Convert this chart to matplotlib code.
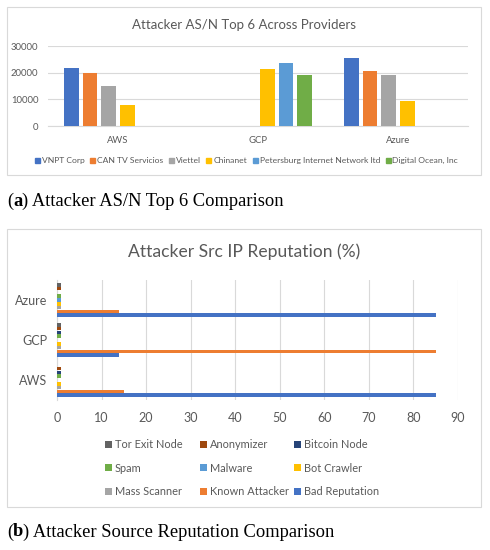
import numpy as np
import matplotlib
matplotlib.use("Agg")
from matplotlib import pyplot as plt
from matplotlib.patches import Rectangle

# 数据 - 上图 (AS/N top 6)
providers = ["AWS", "GCP", "Azure"]
asn_names = ["VNPT Corp", "CAN TV Servicios", "Viettel", "Chinanet",
             "Petersburg Internet Network ltd", "Digital Ocean, Inc"]
vnpt = [21800, 0, 25500]
cantv = [19700, 0, 20500]
viettel = [15000, 0, 19200]
chinanet = [7900, 21400, 9200]
petersburg = [0, 23500, 0]
digital_ocean = [0, 19200, 0]

# 数据 - 下图 (reputation %), 从下往上的系列顺序
rep_names = ["Bad Reputation", "Known Attacker", "Mass Scanner", "Bot Crawler",
             "Malware", "Spam", "Bitcoin Node", "Anonymizer", "Tor Exit Node"]
bad_rep = [85, 14, 85]
known_attacker = [15, 85, 14]
mass_scanner = [1, 1, 1]
bot_crawler = [1, 1, 1]
malware = [0, 0, 1]
spam = [1, 1, 1]
bitcoin = [1, 1, 0]
anonymizer = [1, 1, 1]
tor_exit = [0, 1, 1]
x_ticks = list(range(0, 100, 10))

asn_colors = ["#4472C4", "#ED7D31", "#A5A5A5", "#FFC000", "#5B9BD5", "#70AD47"]
rep_colors = ["#4472C4", "#ED7D31", "#A5A5A5", "#FFC000", "#5B9BD5", "#70AD47",
              "#264478", "#9E480E", "#636363"]
txt = "#595959"
grid = "#D9D9D9"
sans = ["Lato", "DejaVu Sans"]
serif = ["Liberation Serif", "DejaVu Serif"]

W, H = 490, 550
fig = plt.figure(figsize=(W / 100, H / 100), dpi=100)
renderer = fig.canvas.get_renderer()


def box(x0, y0, x1, y1):
    # 像素坐标(从顶部开始)转成figure坐标
    return [x0 / W, 1 - y1 / H, (x1 - x0) / W, (y1 - y0) / H]


def caption(ypix, letter, rest):
    # 题注: "(" + 粗体字母 + ") 文字"
    xx = 7
    for s, w in [("(", "normal"), (letter, "bold"), (rest, "normal")]:
        t = fig.text(xx / W, 1 - ypix / H, s, ha="left", va="center",
                     fontsize=13.3, family=serif, weight=w)
        xx += t.get_window_extent(renderer).width


# 两个外框
for (a, b, c, d) in [(7, 7, 481, 175), (7, 229, 481, 507)]:
    fig.patches.append(Rectangle((a / W, 1 - d / H), (c - a) / W, (d - b) / H,
                                 transform=fig.transFigure, fill=False,
                                 edgecolor="#D9D9D9", linewidth=0.8))

# ---------- 上图 ----------
ax1 = fig.add_axes(box(48, 46, 468, 126))
series = [vnpt, cantv, viettel, chinanet, petersburg, digital_ocean]
x = np.arange(len(providers))
slot = 0.1333
for j, vals in enumerate(series):
    ax1.bar(x + (j - 2.5) * slot, vals, width=0.105, color=asn_colors[j],
            label=asn_names[j], zorder=3)
ax1.set_xlim(-0.5, 2.5)
ax1.set_ylim(0, 30000)
ax1.set_yticks(range(0, 30001, 10000))
ax1.set_xticks(x)
ax1.set_xticklabels(providers)
ax1.grid(axis="y", color=grid, linewidth=0.8, zorder=0)
for s in ["top", "right", "left"]:
    ax1.spines[s].set_visible(False)
ax1.spines["bottom"].set_color(grid)
ax1.tick_params(length=0, labelsize=6.8, labelcolor=txt, pad=7)
for lab in ax1.get_xticklabels() + ax1.get_yticklabels():
    lab.set_family(sans)
fig.text(244 / W, 1 - 25 / H, "Attacker AS/N Top 6 Across Providers",
         ha="center", va="center", fontsize=9.5, color=txt, family=sans)

# 上图图例: 手动排一行 (小方块 + 文字)
leg_y = 160
xx = 35
for name, col in zip(asn_names, asn_colors):
    fig.patches.append(Rectangle((xx / W, 1 - (leg_y + 2.5) / H), 5 / W, 5 / H,
                                 transform=fig.transFigure, color=col))
    t = fig.text((xx + 7) / W, 1 - leg_y / H, name, ha="left",
                 va="center_baseline", fontsize=6.1, color=txt, family=sans)
    xx += 7 + t.get_window_extent(renderer).width + 5.5

caption(201, "a", ") Attacker AS/N Top 6 Comparison")

# ---------- 下图 ----------
ax2 = fig.add_axes(box(57, 280, 458, 400))
rep_series = [bad_rep, known_attacker, mass_scanner, bot_crawler, malware,
              spam, bitcoin, anonymizer, tor_exit]
y = np.arange(len(providers))
h = 0.85 / len(rep_series)
handles = []
for i, vals in enumerate(rep_series):
    bh = ax2.barh(y - 0.425 + (i + 0.5) * h, vals, height=h * 0.95,
                  color=rep_colors[i], label=rep_names[i], zorder=3)
    handles.append(bh)
ax2.set_xlim(0, 90)
ax2.set_ylim(-0.5, 2.5)
ax2.set_xticks(x_ticks)
ax2.set_yticks(y)
ax2.set_yticklabels(providers)
ax2.grid(axis="x", color=grid, linewidth=0.8, zorder=0)
for s in ["top", "right", "bottom"]:
    ax2.spines[s].set_visible(False)
ax2.spines["left"].set_color(grid)
ax2.tick_params(length=0, labelsize=9, labelcolor=txt)
ax2.tick_params(axis="x", pad=9)
ax2.tick_params(axis="y", pad=7)
for lab in ax2.get_xticklabels() + ax2.get_yticklabels():
    lab.set_family(sans)
fig.text(244 / W, 1 - 252 / H, "Attacker Src IP Reputation (%)",
         ha="center", va="center", fontsize=12.6, color=txt, family=sans)

# 图例: 三列, 每列一个legend, 列宽固定
columns = [[8, 5, 2], [7, 4, 1], [6, 3, 0]]
col_x = [105, 200, 294]
for cx, idx in zip(col_x, columns):
    lg = fig.legend([handles[k] for k in idx], [rep_names[k] for k in idx],
                    loc="upper left", bbox_to_anchor=(cx / W, 1 - 439 / H),
                    frameon=False, handlelength=0.6, handleheight=0.6,
                    handletextpad=0.3, labelspacing=1.15, borderaxespad=0,
                    borderpad=0, prop={"family": sans, "size": 7.9})
    for t in lg.get_texts():
        t.set_color(txt)

caption(532, "b", ") Attacker Source Reputation Comparison")

fig.savefig("out.png", dpi=100)
